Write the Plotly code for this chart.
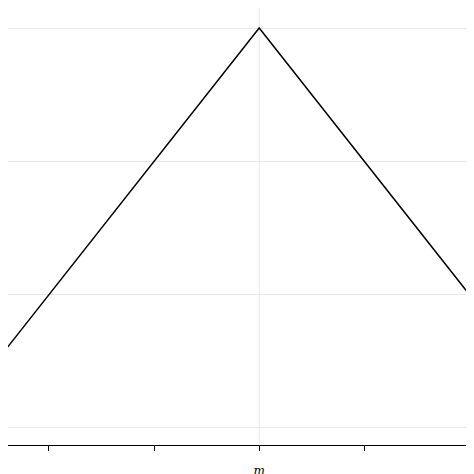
import plotly.graph_objects as go

# triangle profile around m
x_vals = [-2.4, 0, 2.13]
y_vals = [0.6, 3.0, 0.87]
x_ticks = [-2, -1, 0, 1, 2]
x_labels = ["", "", "<i>m</i>", "", ""]

fig = go.Figure()
fig.add_vline(x=0, line_color="#e8e8e8", line_width=1, layer="below")
fig.add_trace(go.Scatter(x=x_vals, y=y_vals, mode="lines",
                         line=dict(color="black", width=1.5)))

fig.update_layout(
    width=474, height=474, showlegend=False,
    margin=dict(l=0, r=0, t=0, b=37, pad=0, autoexpand=False),
    plot_bgcolor="white", paper_bgcolor="white",
    font=dict(family="DejaVu Serif", size=12, color="black"),
)
fig.update_xaxes(range=[-2.39, 2.12], showgrid=False, zeroline=False, automargin=False,
                 tickvals=x_ticks, ticktext=x_labels, ticks="outside",
                 ticklen=5, tickcolor="black", showline=True, linecolor="black",
                 tickfont=dict(family="DejaVu Serif", size=12), ticklabelstandoff=10)
fig.update_yaxes(range=[-0.128, 3.15], tickvals=[0, 1, 2, 3], showticklabels=False,
                 automargin=False, gridcolor="#e8e8e8", zeroline=False)

fig.write_html("out.html")
